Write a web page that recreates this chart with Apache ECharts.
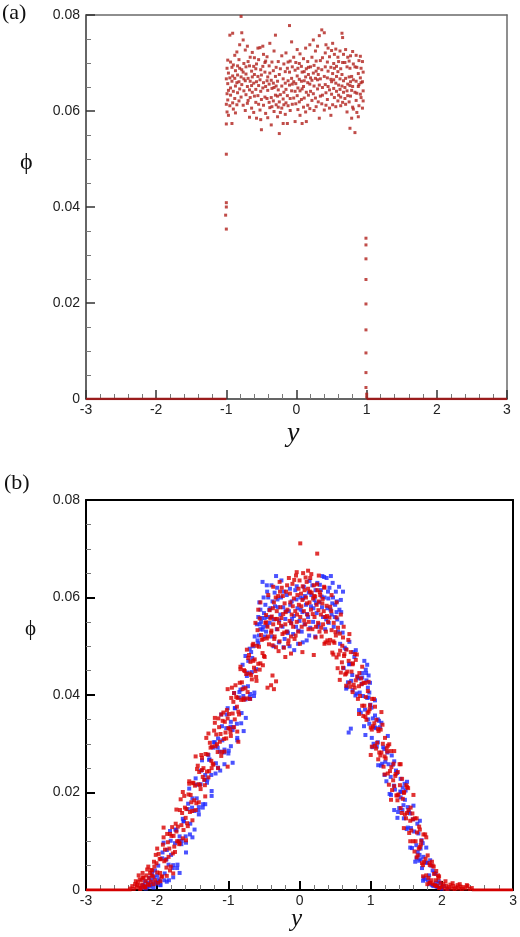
<!DOCTYPE html>
<html>
<head>
<meta charset="utf-8">
<script src="https://cdn.jsdelivr.net/npm/echarts@6/dist/echarts.min.js"></script>
<style>
html,body{margin:0;padding:0;background:#fff;}
#chart{width:520px;height:937px;}
</style>
</head>
<body>
<div id="chart"></div>
<script>
// ---------- data ----------
const xTicks = [-3, -2, -1, 0, 1, 2, 3];
const yTicks = [0, 0.02, 0.04, 0.06, 0.08];

// Panel (a): rows of [y, phi, phi, phi] read from the cloud
const topRows = [
[-1.00,.0573,.0614,.0667],[-0.99,.0636,.0689,.0598],[-0.98,.0657,.0706,.0623],[-0.97,.0643,.0679,.0591],
[-0.95,.0758,.0669,.0611],[-0.94,.0702,.0633,.0648],[-0.92,.0574,.0691,.0662],[-0.91,.0762,.0617,.0673],
[-0.90,.0641,.0696,.0604],[-0.88,.0668,.0626,.0716],[-0.87,.0684,.0652,.0596],[-0.85,.0723,.0659,.0613],
[-0.84,.0675,.0638,.0694],[-0.82,.0661,.0707,.0621],[-0.81,.0689,.0646,.0738],[-0.79,.0797,.0671,.0629],
[-0.78,.0763,.0655,.0686],[-0.76,.0748,.0681,.0612],[-0.75,.0699,.0642,.0667],[-0.73,.0727,.0663,.0601],
[-0.72,.0677,.0692,.0634],[-0.70,.0735,.0651,.0616],[-0.69,.0668,.0703,.0622],[-0.67,.0694,.0644,.0587],
[-0.66,.0712,.0662,.0628],[-0.64,.0653,.0683,.0606],[-0.63,.0722,.0639,.0671],[-0.61,.0658,.0693,.0597],
[-0.60,.0676,.0631,.0711],[-0.58,.0645,.0688,.0618],[-0.57,.0698,.0661,.0585],[-0.55,.0672,.0632,.0731],
[-0.54,.0707,.0653,.0614],[-0.52,.0732,.0665,.0602],[-0.51,.0686,.0641,.0582],[-0.50,.0561,.0675,.0624],
[-0.48,.0735,.0648,.0693],[-0.47,.0718,.0659,.0612],[-0.45,.0681,.0629,.0701],[-0.44,.0651,.0704,.0595],
[-0.42,.0713,.0663,.0626],[-0.41,.0671,.0643,.0586],[-0.39,.0694,.0618,.0656],[-0.38,.0741,.0679,.0607],
[-0.36,.0571,.0664,.0628],[-0.35,.0702,.0647,.0609],[-0.33,.0684,.0621,.0658],[-0.32,.0725,.0599,.0649],
[-0.30,.0758,.0672,.0633],[-0.29,.0691,.0613,.0652],[-0.27,.0662,.0631,.0588],[-0.26,.0703,.0644,.0608],
[-0.245,.0553,.0676,.0619],[-0.23,.0688,.0634,.0597],[-0.21,.0715,.0652,.0606],[-0.19,.0574,.0667,.0625],
[-0.18,.0698,.0639,.0613],[-0.16,.0682,.0658,.0593],[-0.15,.0721,.0617,.0645],[-0.13,.0574,.0689,.0632],
[-0.12,.0663,.0702,.0611],[-0.10,.0778,.0654,.0681],[-0.09,.0704,.0626,.0601],[-0.07,.0744,.0668,.0642],
[-0.06,.0692,.0614,.0656],[-0.04,.0712,.0661,.0627],[-0.02,.0578,.0685,.0641],[-0.01,.0701,.0657,.0615],
[0.01,.0728,.0673,.0632],[0.02,.0689,.0648,.0603],[0.04,.0666,.0699,.0619],[0.05,.0719,.0642,.0591],
[0.07,.0693,.0662,.0624],[0.08,.0574,.0681,.0646],[0.10,.0709,.0651,.0608],[0.11,.0682,.0627,.0663],
[0.13,.0731,.0671,.0598],[0.14,.0578,.0688,.0639],[0.16,.0703,.0659,.0612],[0.17,.0676,.0633,.0691],
[0.19,.0738,.0656,.0605],[0.20,.0692,.0641,.0669],[0.22,.0712,.0622,.0664],[0.24,.0748,.0679,.0636],
[0.25,.0695,.0652,.0601],[0.27,.0725,.0668,.0627],[0.28,.0683,.0704,.0609],[0.30,.0735,.0646,.0665],
[0.31,.0689,.0619,.0676],[0.325,.0757,.0585,.0654],[0.34,.0705,.0667,.0631],[0.36,.0769,.0686,.0615],
[0.37,.0711,.0649,.0633],[0.396,.0763,.0672,.0602],[0.41,.0721,.0655,.0692],[0.42,.0738,.0638,.0612],
[0.44,.0702,.0669,.0624],[0.45,.0731,.0683,.0651],[0.47,.0713,.0644,.0606],[0.49,.0591,.0691,.0666],
[0.50,.0726,.0661,.0635],[0.515,.0741,.0678,.0613],[0.53,.0699,.0647,.0665],[0.54,.0718,.0689,.0628],
[0.56,.0729,.0658,.0609],[0.57,.0693,.0641,.0672],[0.59,.0712,.0682,.0621],[0.60,.0703,.0654,.0633],
[0.62,.0725,.0667,.0645],[0.63,.0688,.0629,.0611],[0.648,.0762,.0676,.0652],[0.657,.0753,.0701,.0618],
[0.67,.0718,.0663,.0639],[0.69,.0701,.0649,.0626],[0.70,.0728,.0668,.0614],[0.72,.0692,.0642,.0598],
[0.73,.0712,.0656,.0632],[0.75,.0704,.0671,.0619],[0.762,.0564,.0653,.0689],[0.77,.0715,.0631,.0661],
[0.786,.0585,.0672,.0643],[0.80,.0724,.0651,.0608],[0.81,.0698,.0665,.0604],[0.833,.0555,.0639,.0692],
[0.85,.0716,.0662,.0622],[0.86,.0691,.0637,.0597],[0.881,.0588,.0678,.0651],[0.89,.0705,.0655,.0611],
[0.91,.0714,.0669,.0635],[0.92,.0689,.0628,.0659],[0.94,.0703,.0661,.0606],[0.95,.0681,.0642,.0621]
];
// Panel (a): isolated points at the two walls
const topEdge = [
[-1.00,.0510],[-1.00,.0409],[-1.00,.0400],[-1.01,.0383],[-1.00,.0354],
[0.99,.0335],[0.99,.0321],[0.99,.0292],[0.99,.0249],[0.99,.0198],[0.99,.0144],
[0.99,.0096],[0.99,.0055],[0.99,.0024],[1.00,.0010],[1.00,.0004]
];
const topZeroLeft = [[-3,0],[-1,0]];
const topZeroRight = [[1,0],[3,0]];

// Panel (b): red series (first pass)
const redPts = [
[-2.38,.0003],[-2.35,.0008],[-2.33,.0002],[-2.31,.0012],[-2.29,.0005],[-2.27,.0016],[-2.25,.0009],[-2.24,.0002],
[-2.22,.0020],[-2.21,.0011],[-2.19,.0025],[-2.18,.0006],[-2.16,.0018],[-2.15,.0030],[-2.13,.0012],[-2.12,.0024],
[-2.10,.0035],[-2.09,.0017],[-2.07,.0040],[-2.06,.0028],[-2.04,.0048],[-2.03,.0020],[-2.01,.0055],[-2.00,.0036],
[-1.98,.0074],[-1.96,.0035],[-1.95,.0063],[-1.93,.0028],[-1.92,.0093],[-1.90,.0059],[-1.89,.0083],[-1.87,.0046],
[-1.86,.0115],[-1.84,.0068],[-1.83,.0085],[-1.81,.0048],[-1.80,.0111],[-1.78,.0075],[-1.77,.0111],[-1.75,.0078],
[-1.74,.0136],[-1.72,.0100],[-1.71,.0130],[-1.69,.0094],[-1.68,.0164],[-1.66,.0133],[-1.65,.0158],[-1.63,.0123],
[-1.62,.0193],[-1.60,.0148],[-1.59,.0166],[-1.57,.0131],[-1.56,.0196],[-1.54,.0160],[-1.53,.0195],[-1.51,.0162],
[-1.50,.0220],[-1.48,.0184],[-1.47,.0214],[-1.45,.0178],[-1.44,.0248],[-1.42,.0217],[-1.41,.0242],[-1.39,.0207],
[-1.38,.0277],[-1.36,.0232],[-1.35,.0250],[-1.33,.0215],[-1.32,.0279],[-1.30,.0243],[-1.29,.0278],[-1.27,.0244],
[-1.26,.0302],[-1.24,.0265],[-1.23,.0294],[-1.21,.0257],[-1.20,.0327],[-1.18,.0295],[-1.17,.0319],[-1.15,.0283],
[-1.14,.0352],[-1.12,.0304],[-1.11,.0320],[-1.09,.0283],[-1.08,.0347],[-1.06,.0310],[-1.05,.0345],[-1.03,.0311],
[-1.02,.0369],[-1.00,.0332],[-0.99,.0361],[-0.97,.0324],[-0.96,.0394],[-0.94,.0362],[-0.93,.0386],[-0.91,.0350],
[-0.90,.0420],[-0.88,.0376],[-0.87,.0394],[-0.85,.0360],[-0.84,.0425],[-0.82,.0390],[-0.81,.0426],[-0.79,.0393],
[-0.78,.0451],[-0.76,.0414],[-0.75,.0443],[-0.73,.0406],[-0.72,.0476],[-0.70,.0444],[-0.69,.0468],[-0.67,.0432],
[-0.66,.0502],[-0.64,.0456],[-0.63,.0473],[-0.61,.0437],[-0.60,.0501],[-0.58,.0464],[-0.57,.0499],[-0.55,.0465],
[-0.54,.0523],[-0.52,.0486],[-0.51,.0515],[-0.49,.0478],[-0.48,.0548],[-0.46,.0516],[-0.45,.0540],[-0.43,.0504],
[-0.42,.0574],[-0.40,.0528],[-1.01,.0253],[-0.86,.0304],
[-0.45,.0415],[-0.40,.0420],[-0.36,.0412],[-0.33,.0428],[-0.38,.0440],
[-0.39,.0561],[-0.38,.0502],[-0.37,.0545],[-0.36,.0590],[-0.35,.0520],[-0.34,.0556],[-0.33,.0498],[-0.32,.0572],
[-0.31,.0535],[-0.30,.0603],[-0.29,.0548],[-0.28,.0510],[-0.27,.0580],[-0.26,.0542],[-0.25,.0620],[-0.24,.0525],
[-0.23,.0566],[-0.22,.0497],[-0.21,.0588],[-0.20,.0545],[-0.19,.0612],[-0.18,.0530],[-0.17,.0575],[-0.16,.0505],
[-0.15,.0640],[-0.14,.0552],[-0.13,.0590],[-0.12,.0520],[-0.11,.0565],[-0.10,.0628],[-0.09,.0540],[-0.08,.0598],
[-0.07,.0515],[-0.06,.0572],[-0.05,.0645],[-0.04,.0550],[-0.03,.0605],[-0.02,.0530],[-0.01,.0585],[0.00,.0635],
[0.01,.0711],[0.01,.0560],[0.02,.0608],[0.03,.0540],[0.04,.0595],[0.05,.0650],[0.06,.0572],[0.07,.0615],
[0.08,.0545],[0.09,.0600],[0.10,.0632],[0.11,.0565],[0.12,.0618],[0.13,.0550],[0.14,.0590],[0.15,.0640],
[0.16,.0575],[0.17,.0610],[0.18,.0535],[0.19,.0598],[0.20,.0625],[0.21,.0560],[0.22,.0602],[0.23,.0540],
[0.248,.0690],[0.24,.0585],[0.25,.0615],[0.26,.0548],[0.27,.0592],[0.28,.0530],[0.29,.0605],[0.30,.0565],
[0.31,.0520],[0.32,.0588],[0.33,.0545],[0.34,.0572],[0.35,.0505],[0.36,.0560],[0.37,.0530],[0.38,.0583],
[0.39,.0512],[0.40,.0550],
[0.42,.0559],[0.43,.0513],[0.45,.0533],[0.46,.0487],[0.48,.0548],[0.49,.0507],[0.51,.0522],[0.52,.0477],
[0.54,.0538],[0.55,.0483],[0.57,.0491],[0.58,.0446],[0.60,.0501],[0.61,.0456],[0.63,.0484],[0.64,.0442],
[0.66,.0493],[0.67,.0448],[0.69,.0470],[0.70,.0425],[0.72,.0488],[0.73,.0448],[0.75,.0465],[0.76,.0421],
[0.78,.0484],[0.79,.0430],[0.81,.0438],[0.82,.0392],[0.84,.0445],[0.85,.0398],[0.87,.0422],[0.88,.0378],
[0.90,.0425],[0.91,.0378],[0.93,.0396],[0.94,.0349],[0.96,.0408],[0.97,.0366],[0.99,.0379],[1.00,.0333],
[1.02,.0392],[1.03,.0336],[1.05,.0342],[1.06,.0296],[1.08,.0349],[1.09,.0302],[1.11,.0326],[1.12,.0282],
[1.14,.0329],[1.15,.0282],[1.17,.0300],[1.18,.0253],[1.20,.0312],[1.21,.0270],[1.23,.0284],[1.24,.0239],
[1.26,.0299],[1.27,.0244],[1.29,.0252],[1.30,.0205],[1.32,.0259],[1.33,.0213],[1.35,.0238],[1.36,.0194],
[1.38,.0242],[1.39,.0196],[1.41,.0215],[1.42,.0168],[1.44,.0228],[1.45,.0187],[1.47,.0201],[1.48,.0155],
[1.50,.0215],[1.51,.0158],[1.53,.0164],[1.54,.0117],[1.56,.0169],[1.57,.0122],[1.59,.0145],[1.60,.0100],
[1.62,.0147],[1.63,.0100],[1.65,.0118],[1.66,.0071],[1.68,.0130],[1.69,.0088],[1.71,.0101],[1.72,.0055],
[1.74,.0114],[1.75,.0058],[1.77,.0064],[1.78,.0030],[1.80,.0071],[1.81,.0025],[1.83,.0051],[1.84,.0015],
[1.86,.0058],[1.87,.0012],[1.89,.0033],[1.90,.0010],[1.92,.0039],[1.93,.0008],[1.95,.0025],[1.96,.0004],
[1.98,.0015],[1.00,.0277],
[2.00,.0007],[2.02,.0012],[2.04,.0003],[2.06,.0009],[2.08,.0002],[2.10,.0006],[2.12,.0011],[2.14,.0003],
[2.16,.0008],[2.18,.0002],[2.20,.0005],[2.22,.0010],[2.24,.0003],[2.26,.0007],[2.28,.0002],[2.30,.0006],
[2.33,.0003],[2.36,.0008],[2.39,.0002],[2.42,.0004]
];
// Panel (b): red series (second pass, filling the band)
const redPts2 = [
[-2.30,.0018],[-2.26,.0030],[-2.23,.0004],[-2.20,.0026],[-2.17,.0008],[-2.14,.0042],[-2.11,.0010],[-2.08,.0030],
[-2.05,.0012],[-2.02,.0072],[-1.99,.0015],[-1.965,.0064],[-1.94,.0027],[-1.91,.0108],[-1.88,.0062],[-1.85,.0098],
[-1.82,.0040],[-1.79,.0129],[-1.76,.0089],[-1.73,.0120],[-1.70,.0100],[-1.67,.0186],[-1.64,.0106],[-1.61,.0169],
[-1.58,.0137],[-1.55,.0223],[-1.52,.0180],[-1.49,.0219],[-1.46,.0164],[-1.43,.0255],[-1.40,.0215],[-1.37,.0246],
[-1.34,.0226],[-1.31,.0312],[-1.28,.0231],[-1.25,.0292],[-1.22,.0259],[-1.19,.0343],[-1.16,.0299],[-1.13,.0334],
[-1.10,.0275],[-1.07,.0364],[-1.04,.0323],[-1.01,.0352],[-0.98,.0331],[-0.95,.0415],[-0.92,.0334],[-0.89,.0396],
[-0.86,.0366],[-0.83,.0453],[-0.80,.0412],[-0.77,.0449],[-0.74,.0393],[-0.71,.0482],[-0.68,.0441],[-0.65,.0470],
[-0.62,.0449],[-0.59,.0533],[-0.56,.0452],[-0.53,.0513],[-0.50,.0480],[-0.47,.0564],[-0.44,.0520],[-0.41,.0557],
[-0.395,.0532],[-0.375,.0578],[-0.355,.0515],[-0.335,.0600],[-0.315,.0556],[-0.295,.0490],[-0.275,.0612],[-0.255,.0558],
[-0.235,.0603],[-0.215,.0528],[-0.195,.0570],[-0.175,.0625],[-0.155,.0512],[-0.135,.0608],[-0.115,.0547],[-0.095,.0582],
[-0.075,.0636],[-0.055,.0522],[-0.035,.0565],[-0.015,.0618],[0.005,.0505],[0.025,.0582],[0.045,.0623],[0.065,.0553],
[0.085,.0641],[0.105,.0588],[0.125,.0535],[0.145,.0612],[0.165,.0648],[0.185,.0566],[0.205,.0603],[0.225,.0518],
[0.245,.0627],[0.265,.0574],[0.285,.0611],[0.305,.0538],[0.325,.0597],[0.345,.0622],[0.365,.0508],[0.385,.0562],
[0.415,.0506],[0.445,.0572],[0.475,.0510],[0.505,.0529],[0.535,.0455],[0.565,.0526],[0.595,.0467],[0.625,.0480],
[0.655,.0444],[0.685,.0513],[0.715,.0417],[0.745,.0463],[0.775,.0415],[0.805,.0483],[0.835,.0418],[0.865,.0434],
[0.895,.0357],[0.925,.0425],[0.955,.0363],[0.985,.0371],[1.015,.0329],[1.045,.0392],[1.075,.0290],[1.105,.0330],
[1.135,.0276],[1.165,.0339],[1.195,.0274],[1.225,.0291],[1.255,.0216],[1.285,.0285],[1.315,.0225],[1.345,.0234],
[1.375,.0194],[1.405,.0258],[1.435,.0158],[1.465,.0199],[1.495,.0147],[1.525,.0209],[1.555,.0142],[1.585,.0157],
[1.615,.0079],[1.645,.0147],[1.675,.0085],[1.705,.0093],[1.735,.0051],[1.765,.0114],[1.795,.0012],[1.825,.0055],
[1.855,.0020],[1.885,.0048],[1.915,.0009],[1.945,.0030],[1.975,.0005],
[2.05,.0018],[2.15,.0014],[2.25,.0012],[2.35,.0010]
];
// Panel (b): red series (third pass, outer edges of the band)
const redPts3 = [
[-2.285,.0010],[-2.245,.0022],[-2.205,.0035],[-2.165,.0005],[-2.125,.0048],[-2.085,.0041],[-2.045,.0058],[-2.00,.0085],
[-1.955,.0018],[-1.91,.0128],[-1.865,.0029],[-1.82,.0115],[-1.775,.0034],[-1.73,.0165],[-1.685,.0096],[-1.64,.0201],
[-1.595,.0102],[-1.55,.0218],[-1.505,.0143],[-1.46,.0274],[-1.415,.0180],[-1.37,.0271],[-1.325,.0192],[-1.28,.0321],
[-1.235,.0250],[-1.19,.0353],[-1.145,.0250],[-1.10,.0360],[-1.055,.0284],[-1.01,.0412],[-0.965,.0316],[-0.92,.0404],
[-0.875,.0325],[-0.83,.0458],[-0.785,.0390],[-0.74,.0493],[-0.695,.0392],[-0.65,.0505],[-0.605,.0429],[-0.56,.0557],
[-0.515,.0461],[-0.47,.0549],
[-0.62,.0548],[-0.58,.0575],[-0.55,.0590],[-0.44,.0605],[-0.37,.0622],[-0.28,.0632],[-0.20,.0478],[-0.12,.0485],
[-0.04,.0652],[0.04,.0488],[0.12,.0655],[0.20,.0482],[0.27,.0645],[0.35,.0620],[0.45,.0605],[0.52,.0590],
[0.58,.0565],[0.62,.0540],
[0.43,.0581],[0.475,.0483],[0.52,.0559],[0.565,.0431],[0.61,.0518],[0.655,.0419],[0.70,.0525],[0.745,.0406],
[0.79,.0472],[0.835,.0361],[0.88,.0458],[0.925,.0355],[0.97,.0427],[1.015,.0294],[1.06,.0376],[1.105,.0268],
[1.15,.0365],[1.195,.0237],[1.24,.0296],[1.285,.0185],[1.33,.0285],[1.375,.0184],[1.42,.0258],[1.465,.0127],
[1.51,.0211],[1.555,.0100],[1.60,.0195],[1.645,.0067],[1.69,.0124],[1.735,.0028],[1.78,.0108],[1.825,.0015],
[1.87,.0050],[1.915,.0020],[1.96,.0028]
];

// Panel (b): blue series (first pass)
const bluePts = [
[-2.22,.0004],[-2.19,.0010],[-2.16,.0003],[-2.13,.0015],[-2.10,.0007],[-2.08,.0020],[-2.06,.0012],[-2.04,.0026],
[-2.02,.0016],[-2.00,.0030],[-1.98,.0022],
[-1.96,.0018],[-1.93,.0065],[-1.90,.0020],[-1.87,.0063],[-1.84,.0052],[-1.81,.0101],[-1.78,.0045],[-1.75,.0096],
[-1.72,.0045],[-1.69,.0100],[-1.66,.0094],[-1.63,.0141],[-1.60,.0110],[-1.57,.0166],[-1.54,.0114],[-1.51,.0169],
[-1.48,.0162],[-1.45,.0216],[-1.42,.0163],[-1.39,.0217],[-1.36,.0169],[-1.33,.0226],[-1.30,.0220],[-1.27,.0267],
[-1.24,.0236],[-1.21,.0292],[-1.18,.0239],[-1.15,.0292],[-1.12,.0284],[-1.09,.0336],[-1.06,.0282],[-1.03,.0332],
[-1.00,.0280],[-0.97,.0335],[-0.94,.0328],[-0.91,.0373],[-0.88,.0341],[-0.85,.0395],[-0.82,.0342],[-0.79,.0398],
[-0.76,.0391],[-0.73,.0446],[-0.70,.0395],[-0.67,.0447],[-0.64,.0398],[-0.61,.0453],[-0.94,.0261],
[-0.80,.0462],[-0.76,.0480],[-0.72,.0470],[-0.70,.0495],[-0.68,.0488],
[-0.58,.0506],[-0.55,.0535],[-0.52,.0534],[-0.49,.0558],[-0.46,.0542],
[-0.60,.0545],[-0.58,.0560],[-0.57,.0522],[-0.55,.0575],[-0.54,.0550],[-0.52,.0632],[-0.51,.0540],[-0.50,.0568],
[-0.48,.0585],[-0.47,.0530],[-0.45,.0560],[-0.44,.0600],[-0.42,.0548],[-0.41,.0578],[-0.39,.0520],[-0.38,.0592],
[-0.36,.0555],[-0.35,.0610],[-0.33,.0644],[-0.32,.0535],[-0.30,.0580],[-0.29,.0508],[-0.27,.0565],[-0.26,.0600],
[-0.24,.0540],[-0.23,.0580],[-0.21,.0515],[-0.20,.0556],[-0.18,.0605],[-0.17,.0530],[-0.15,.0572],[-0.14,.0500],
[-0.12,.0548],[-0.11,.0592],[-0.09,.0525],[-0.08,.0562],[-0.06,.0615],[-0.05,.0540],[-0.03,.0578],[-0.02,.0505],
[0.00,.0552],[0.01,.0600],[0.03,.0530],[0.04,.0570],[0.06,.0622],[0.07,.0545],[0.09,.0585],[0.10,.0512],
[0.12,.0560],[0.13,.0610],[0.15,.0538],[0.16,.0582],[0.18,.0625],[0.19,.0550],[0.21,.0595],[0.22,.0520],
[0.24,.0568],[0.25,.0630],[0.27,.0545],[0.28,.0590],[0.30,.0615],[0.32,.0644],[0.33,.0560],[0.35,.0600],
[0.36,.0535],[0.38,.0640],[0.39,.0578],[0.41,.0548],[0.42,.0620],[0.44,.0644],[0.45,.0565],[0.47,.0600],
[0.48,.0540],[0.50,.0585],[0.51,.0612],[0.53,.0555],[0.54,.0530],[0.56,.0575],[0.57,.0505],[0.59,.0548],
[0.62,.0455],[0.65,.0494],[0.68,.0426],[0.71,.0464],[0.74,.0441],[0.77,.0478],[0.80,.0403],[0.83,.0434],
[0.86,.0364],[0.69,.0323],[0.72,.0331],
[0.88,.0445],[0.91,.0470],[0.93,.0452],[0.94,.0430],[0.95,.0462],[0.96,.0415],[0.97,.0440],[0.98,.0405],[0.99,.0425],
[1.03,.0352],[1.06,.0358],[1.10,.0350],
[0.89,.0398],[0.92,.0370],[0.95,.0394],[0.98,.0341],[1.01,.0374],[1.04,.0300],[1.07,.0332],[1.10,.0303],
[1.13,.0334],[1.16,.0259],[1.19,.0289],[1.22,.0223],[1.25,.0258],[1.28,.0232],[1.31,.0257],[1.34,.0206],
[1.37,.0240],[1.40,.0168],[1.43,.0201],[1.46,.0174],[1.49,.0204],[1.52,.0128],[1.55,.0157],[1.58,.0086],
[1.61,.0120],[1.64,.0092],[1.67,.0116],[1.70,.0063],[1.73,.0096],[1.76,.0022],[1.79,.0056],[1.82,.0030],
[1.85,.0050],[1.88,.0008],[1.91,.0033],[1.94,.0006],[1.97,.0014],[2.00,.0003],[1.33,.0164],
[1.66,.0078],[1.68,.0060],[1.70,.0085],[1.72,.0045],[1.74,.0068],
[1.42,.0190],[1.45,.0210],[1.48,.0185],[1.52,.0170]
];
// Panel (b): blue series (second pass)
const bluePts2 = [
[-2.20,.0009],[-2.17,.0018],[-2.14,.0006],[-2.11,.0025],[-2.09,.0011],[-2.07,.0034],[-2.05,.0005],[-2.03,.0040],
[-2.01,.0013],[-1.985,.0050],[-1.955,.0010],[-1.925,.0077],[-1.895,.0034],[-1.865,.0082],[-1.835,.0020],[-1.805,.0072],
[-1.775,.0051],[-1.745,.0124],[-1.715,.0052],[-1.685,.0110],[-1.655,.0101],[-1.625,.0141],[-1.595,.0077],[-1.565,.0177],
[-1.535,.0136],[-1.505,.0188],[-1.475,.0124],[-1.445,.0188],[-1.415,.0170],[-1.385,.0245],[-1.355,.0176],[-1.325,.0236],
[-1.295,.0227],[-1.265,.0268],[-1.235,.0203],[-1.205,.0303],[-1.175,.0260],[-1.145,.0311],[-1.115,.0245],[-1.085,.0307],
[-1.055,.0288],[-1.025,.0360],[-0.995,.0286],[-0.965,.0345],[-0.935,.0334],[-0.905,.0373],[-0.875,.0307],[-0.845,.0406],
[-0.815,.0363],[-0.785,.0416],[-0.755,.0353],[-0.725,.0418],[-0.695,.0402],[-0.665,.0476],[-0.635,.0405],
[-0.59,.0512],[-0.565,.0590],[-0.535,.0558],[-0.505,.0600],[-0.485,.0520],[-0.455,.0612],[-0.425,.0575],[-0.395,.0625],
[-0.365,.0500],[-0.345,.0582],[-0.315,.0620],[-0.285,.0553],[-0.255,.0635],[-0.225,.0498],[-0.195,.0572],[-0.165,.0527],
[-0.135,.0618],[-0.105,.0556],[-0.075,.0492],[-0.045,.0596],[-0.015,.0532],[0.015,.0575],[0.045,.0508],[0.075,.0603],
[0.105,.0566],[0.135,.0522],[0.165,.0605],[0.195,.0578],[0.225,.0615],[0.255,.0540],[0.285,.0626],[0.315,.0580],
[0.345,.0642],[0.375,.0555],[0.405,.0598],[0.435,.0575],[0.465,.0630],[0.495,.0560],[0.525,.0592],[0.555,.0622],
[0.585,.0570],[0.605,.0528],
[0.635,.0497],[0.665,.0416],[0.695,.0463],[0.725,.0429],[0.755,.0488],[0.785,.0399],[0.815,.0437],[0.845,.0405],
[0.875,.0423],[0.905,.0336],[0.935,.0445],[0.965,.0350],[0.995,.0380],[1.025,.0293],[1.055,.0334],[1.085,.0294],
[1.115,.0347],[1.145,.0255],[1.175,.0293],[1.205,.0263],[1.235,.0282],[1.265,.0197],[1.295,.0276],[1.325,.0214],
[1.355,.0245],[1.385,.0160],[1.415,.0202],[1.445,.0164],[1.475,.0218],[1.505,.0125],[1.535,.0161],[1.565,.0127],
[1.595,.0145],[1.625,.0058],[1.655,.0136],[1.685,.0072],[1.715,.0102],[1.745,.0025],[1.775,.0056],[1.805,.0020],
[1.835,.0061],[1.865,.0010],[1.895,.0035],[1.925,.0007],[1.955,.0018],[1.985,.0004],[2.03,.0008],[2.08,.0003]
];
// Panel (b): blue series (third pass, outer edges)
const bluePts3 = [
[-1.955,.0010],[-1.91,.0097],[-1.865,.0017],[-1.82,.0121],[-1.775,.0026],[-1.73,.0123],[-1.685,.0035],[-1.64,.0146],
[-1.595,.0097],[-1.55,.0208],[-1.505,.0108],[-1.46,.0229],[-1.415,.0155],[-1.37,.0266],[-1.325,.0176],[-1.28,.0277],
[-1.235,.0193],[-1.19,.0303],[-1.145,.0251],[-1.10,.0360],[-1.055,.0258],[-1.01,.0373],[-0.965,.0295],[-0.92,.0404],
[-0.875,.0312],[-0.83,.0411],[-0.785,.0326],[-0.74,.0439],[-0.695,.0392],[-0.65,.0500],
[-0.63,.0520],[-0.56,.0545],[-0.46,.0625],[-0.40,.0560],[-0.31,.0596],[-0.22,.0612],[-0.13,.0585],[-0.04,.0623],
[0.05,.0598],[0.14,.0634],[0.23,.0588],[0.31,.0602],[0.40,.0612],[0.46,.0588],[0.52,.0570],[0.58,.0595],[0.61,.0612],
[0.655,.0413],[0.70,.0509],[0.745,.0410],[0.79,.0492],[0.835,.0369],[0.88,.0436],[0.925,.0318],[0.97,.0395],
[1.015,.0312],[1.06,.0389],[1.105,.0256],[1.15,.0343],[1.195,.0236],[1.24,.0316],[1.285,.0195],[1.33,.0264],
[1.375,.0148],[1.42,.0228],[1.465,.0147],[1.51,.0222],[1.555,.0087],[1.60,.0173],[1.645,.0065],[1.69,.0142],
[1.735,.0019],[1.78,.0087],[1.825,.0012],[1.87,.0040],[1.915,.0015]
];
const botZeroLeft = [[-3,0],[-2.36,0]];
const botZeroRight = [[2.42,0],[3,0]];

// ---------- helpers ----------
function flatten(rows){
  const out=[];
  rows.forEach(r=>{for(let i=1;i<r.length;i++) out.push([r[0], r[i]]);});
  return out;
}
const topCloud = flatten(topRows);

const chart = echarts.init(document.getElementById('chart'), null, {renderer:'canvas'});
const sans = 'Liberation Sans';

function xAx(gi, c, w){
  return {
    gridIndex: gi, type:'value', position:'bottom', min: xTicks[0], max: xTicks[xTicks.length-1], interval: 1,
    axisLine:{show:true, onZero:false, lineStyle:{color:c, width:w}},
    axisTick:{show:true, inside:true, length:9, lineStyle:{color:c, width:w}},
    minorTick:{show:true, splitNumber:5, length:5, lineStyle:{color:'#777', width:1}},
    splitLine:{show:false}, minorSplitLine:{show:false},
    axisLabel:{show:true, fontSize:14, color:'#222', margin:4, fontFamily:sans}
  };
}
function xTop(gi, c, w){
  return {
    gridIndex: gi, type:'value', position:'top', min: xTicks[0], max: xTicks[xTicks.length-1], interval: 1,
    axisLine:{show:true, onZero:false, lineStyle:{color:c, width:w}},
    axisTick:{show:false}, minorTick:{show:false}, axisLabel:{show:false}, splitLine:{show:false}
  };
}
function yAx(gi, c, w){
  return {
    gridIndex: gi, type:'value', position:'left', min: yTicks[0], max: yTicks[yTicks.length-1], interval: 0.02,
    axisLine:{show:true, onZero:false, lineStyle:{color:c, width:w}},
    axisTick:{show:true, inside:true, length:9, lineStyle:{color:c, width:w}},
    minorTick:{show:true, splitNumber:4, length:5, lineStyle:{color:'#777', width:1}},
    splitLine:{show:false}, minorSplitLine:{show:false},
    axisLabel:{show:true, fontSize:14, color:'#222', margin:6, fontFamily:sans,
      formatter: v => v === 0 ? '0' : v.toFixed(2)}
  };
}
function yRight(gi, c, w){
  return {
    gridIndex: gi, type:'value', position:'right', min: yTicks[0], max: yTicks[yTicks.length-1], interval: 0.02,
    axisLine:{show:true, onZero:false, lineStyle:{color:c, width:w}},
    axisTick:{show:false}, minorTick:{show:false}, axisLabel:{show:false}, splitLine:{show:false}
  };
}
function sc(xi, data, color, size){
  return {type:'scatter', xAxisIndex:xi, yAxisIndex:xi, data:data, symbol:'rect', symbolSize:size, itemStyle:{color:color}};
}

const option = {
  animation:false,
  backgroundColor:'#fff',
  grid:[
    {left:86, top:15, width:421, height:384, show:false},
    {left:86, top:500, width:428, height:390, show:false}
  ],
  xAxis:[xAx(0,'#333',1.5), xTop(0,'#6a6a6a',1.5), xAx(1,'#000',2), xTop(1,'#000',2)],
  yAxis:[yAx(0,'#333',1.5), yRight(0,'#6a6a6a',1.5), yAx(1,'#000',2), yRight(1,'#000',2)],
  graphic:[
    {type:'text', left:2, top:2, style:{text:'(a)', font:'22px "Liberation Serif"', fill:'#111'}},
    {type:'text', left:20, top:151, style:{text:'ϕ', font:'24px "Liberation Serif"', fill:'#111'}},
    {type:'text', left:287, top:420, style:{text:'y', font:'italic 28px "Liberation Serif"', fill:'#111'}},
    {type:'text', left:4, top:472, style:{text:'(b)', font:'22px "Liberation Serif"', fill:'#111'}},
    {type:'text', left:25, top:619, style:{text:'ϕ', font:'21px "Liberation Serif"', fill:'#111'}},
    {type:'text', left:291, top:907, style:{text:'y', font:'italic 25px "Liberation Serif"', fill:'#111'}}
  ],
  series:[
    {type:'line', xAxisIndex:0, yAxisIndex:0, data:topZeroLeft, symbol:'none', lineStyle:{color:'#9a1c1c', width:2.5}},
    {type:'line', xAxisIndex:0, yAxisIndex:0, data:topZeroRight, symbol:'none', lineStyle:{color:'#9a1c1c', width:2.5}},
    sc(0, topCloud, '#b0201c', 3),
    sc(0, topEdge, '#b0201c', 3),
    {type:'line', xAxisIndex:2, yAxisIndex:2, data:botZeroLeft, symbol:'none', lineStyle:{color:'#d40000', width:3}},
    {type:'line', xAxisIndex:2, yAxisIndex:2, data:botZeroRight, symbol:'none', lineStyle:{color:'#d40000', width:3}},
    sc(2, bluePts, '#1e28ff', 4),
    sc(2, bluePts2, '#1e28ff', 4),
    sc(2, bluePts3, '#1e28ff', 4),
    sc(2, redPts, '#d90000', 4),
    sc(2, redPts2, '#d90000', 4),
    sc(2, redPts3, '#d90000', 4)
  ]
};
chart.setOption(option);
</script>
</body>
</html>
